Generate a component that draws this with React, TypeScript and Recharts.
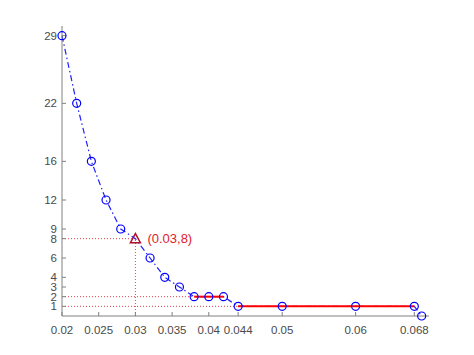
import React from 'react';
import { ComposedChart, Line, XAxis, YAxis, ReferenceLine, ReferenceDot } from 'recharts';

const xs = [0.02, 0.022, 0.024, 0.026, 0.028, 0.03, 0.032, 0.034, 0.036, 0.038, 0.04, 0.042, 0.044, 0.05, 0.06, 0.068, 0.069];
const ys = [29, 22, 16, 12, 9, 8, 6, 4, 3, 2, 2, 2, 1, 1, 1, 1, 0];

const flatA = [{ x: 0.038, y: 2 }, { x: 0.042, y: 2 }];
const flatB = [{ x: 0.044, y: 1 }, { x: 0.068, y: 1 }];

const mark = { x: 0.03, y: 8, label: '(0.03,8)' };

// dotted guide segments
const guides = [
  { x1: 0.02, y1: 8, x2: 0.03, y2: 8 },
  { x1: 0.03, y1: 0, x2: 0.03, y2: 8 },
  { x1: 0.02, y1: 2, x2: 0.038, y2: 2 },
  { x1: 0.02, y1: 1, x2: 0.044, y2: 1 },
];

const xTicks = [0.02, 0.025, 0.03, 0.035, 0.04, 0.044, 0.05, 0.06, 0.068];
const yTicks = [1, 2, 3, 4, 6, 8, 9, 12, 16, 22, 29];

const data = xs.map((x, i) => ({ x, y: ys[i] }));

const AXIS = '#808080';
const TEXT = '#4a4a4a';
const FONT = '"Liberation Sans", Arial, sans-serif';

const BlueDot = (p: any) => {
  if (p.payload.x === mark.x) return <g key={p.index} />;
  return <circle key={p.index} cx={p.cx} cy={p.cy} r={4} fill="none" stroke="#0000ff" strokeWidth={1.2} />;
};

const Triangle = (p: any) => (
  <polygon
    points={`${p.cx},${p.cy - 5} ${p.cx - 5},${p.cy + 4} ${p.cx + 5},${p.cy + 4}`}
    fill="none"
    stroke="#b0102a"
    strokeWidth={1.5}
  />
);

export default function App() {
  return (
    <div style={{ position: 'absolute', left: 0, top: 0, fontFamily: FONT }}>
      <ComposedChart width={474} height={355} margin={{ top: 26, right: 45, left: 0, bottom: 0 }}>
        <XAxis
          xAxisId="b"
          type="number"
          dataKey="x"
          domain={[0.02, 0.07]}
          ticks={xTicks}
          interval={0}
          height={39}
          tickSize={-4}
          tickMargin={14}
          stroke={AXIS}
          tick={{ fill: TEXT, fontSize: 11.5, fontFamily: FONT }}
          tickFormatter={(v) => String(v)}
        />
        <XAxis
          xAxisId="t"
          orientation="top"
          type="number"
          dataKey="x"
          domain={[0.02, 0.07]}
          ticks={xTicks}
          interval={0}
          height={0}
          tickSize={-4}
          stroke={AXIS}
          tickFormatter={() => ''}
        />
        <YAxis
          yAxisId="l"
          type="number"
          domain={[0, 30]}
          ticks={yTicks}
          interval={0}
          width={62}
          tickSize={-4}
          tickMargin={9}
          stroke={AXIS}
          tick={{ fill: TEXT, fontSize: 11.5, fontFamily: FONT }}
        />
        <YAxis
          yAxisId="r"
          orientation="right"
          type="number"
          domain={[0, 30]}
          ticks={yTicks}
          interval={0}
          width={0}
          tickSize={-4}
          stroke={AXIS}
          tickFormatter={() => ''}
        />
        {guides.map((g, i) => (
          <ReferenceLine
            key={i}
            xAxisId="b"
            yAxisId="l"
            segment={[{ x: g.x1, y: g.y1 }, { x: g.x2, y: g.y2 }]}
            stroke="#e8404a"
            strokeDasharray="1 2"
            strokeWidth={1}
          />
        ))}
        <Line
          xAxisId="b"
          yAxisId="l"
          data={data}
          dataKey="y"
          stroke="#2020ff"
          strokeWidth={1.2}
          strokeDasharray="6 3 1.5 3"
          dot={BlueDot}
          isAnimationActive={false}
        />
        <Line xAxisId="b" yAxisId="l" data={flatA} dataKey="y" stroke="#ff0000" strokeWidth={2} dot={false} isAnimationActive={false} />
        <Line xAxisId="b" yAxisId="l" data={flatB} dataKey="y" stroke="#ff0000" strokeWidth={2} dot={false} isAnimationActive={false} />
        <ReferenceDot
          xAxisId="b"
          yAxisId="l"
          x={mark.x}
          y={mark.y}
          r={5}
          shape={Triangle}
          label={{ value: mark.label, position: 'right', offset: 7, fill: '#e0202a', fontSize: 13, fontFamily: FONT }}
        />
      </ComposedChart>
    </div>
  );
}
